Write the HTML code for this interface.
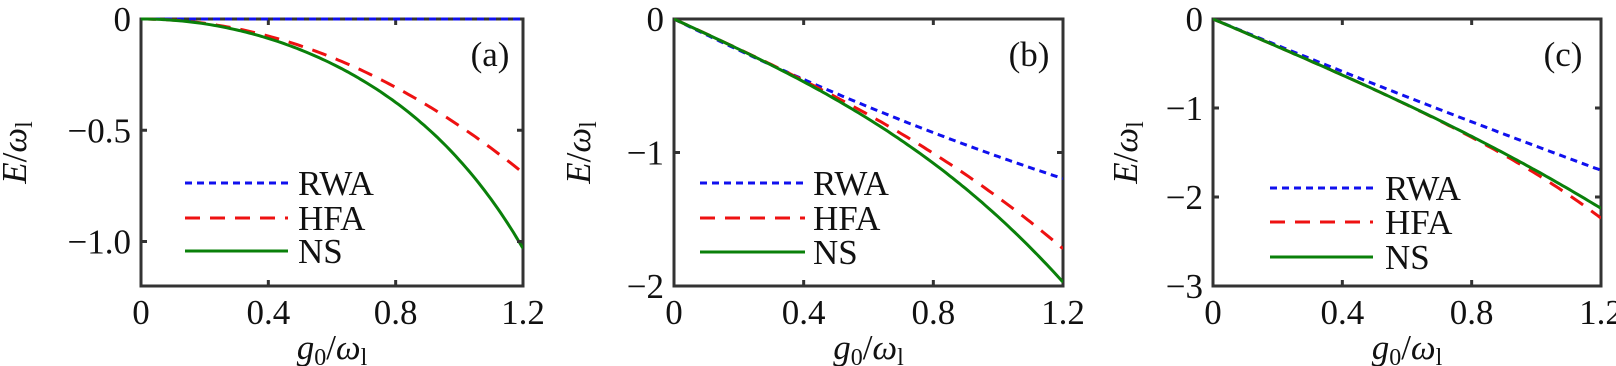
<!DOCTYPE html>
<html><head><meta charset="utf-8"><style>
html,body{margin:0;padding:0;background:#fff;width:1616px;height:366px;overflow:hidden}
</style></head><body>
<svg id="s" width="1616" height="366" xmlns="http://www.w3.org/2000/svg" font-family="'Liberation Serif', 'DejaVu Serif', serif"></svg>
<script>
const S=document.getElementById('s');let h='';
const T=19,B=286;
const FF=`font-family="Liberation Serif, serif" fill="#111"`;
const panels=[
 {L:141,R:523,ymin:-1.2,yt:[[0,'0'],[-0.5,'\u22120.5'],[-1.0,'\u22121.0']],lab:'(a)',labx:490,ylx:26,
  leg:{x1:185,x2:288,ys:[183,218,251],tx:298},
  f:[g=>0,g=>-0.48*g*g,g=>-0.54*g*g-0.03*g**4-0.064*g**6]},
 {L:674,R:1063,ymin:-2,yt:[[0,'0'],[-1,'\u22121'],[-2,'\u22122']],lab:'(b)',labx:1029,ylx:590,
  leg:{x1:700,x2:805,ys:[183,218,252],tx:813},
  f:[g=>-(1.2*g-0.17*g*g),g=>-(1.117*g+0.22*g**3),g=>-(1.117*g+0.365*g**3)]},
 {L:1213,R:1601,ymin:-3,yt:[[0,'0'],[-1,'\u22121'],[-2,'\u22122'],[-3,'\u22123']],lab:'(c)',labx:1563,ylx:1137,
  leg:{x1:1270,x2:1373,ys:[188,222,257],tx:1385},
  f:[g=>-(1.5*g-0.07*g*g),g=>-(1.55*g+0.155*g**3)-0.11*(g/1.2)**6,g=>-(1.55*g+0.155*g**3)]}
];
const sty=[['#1010ee','7 5'],['#ee1111','15 10'],['#0a800a','']];
const names=['RWA','HFA','NS'];
for(const p of panels){
 const X=g=>p.L+(p.R-p.L)*g/1.2, Y=e=>T+(B-T)*e/p.ymin;
 h+=`<defs><clipPath id="c${p.L}"><rect x="${p.L}" y="${T-3}" width="${p.R-p.L}" height="${B-T+3}"/></clipPath></defs>`;
 h+=`<rect x="${p.L}" y="${T}" width="${p.R-p.L}" height="${B-T}" fill="none" stroke="#333" stroke-width="3"/>`;
 for(const g of [0.4,0.8]){const x=X(g);h+=`<line x1="${x}" x2="${x}" y1="${B}" y2="${B-6}" stroke="#333" stroke-width="3"/><line x1="${x}" x2="${x}" y1="${T}" y2="${T+6}" stroke="#333" stroke-width="3"/>`;}
 for(let k=0;k<3;k++){
  let d='';for(let i=0;i<=120;i++){const g=1.2*i/120;d+=(i?'L':'M')+X(g).toFixed(1)+' '+Y(p.f[k](g)).toFixed(1);}
  h+=`<path d="${d}" fill="none" stroke="${sty[k][0]}" stroke-width="3" ${sty[k][1]?`stroke-dasharray="${sty[k][1]}"`:''} clip-path="url(#c${p.L})"/>`;
  const l=p.leg;
  h+=`<line x1="${l.x1}" x2="${l.x2}" y1="${l.ys[k]}" y2="${l.ys[k]}" stroke="${sty[k][0]}" stroke-width="3" ${sty[k][1]?`stroke-dasharray="${sty[k][1]}"`:''}/>`;
  h+=`<text ${FF} x="${l.tx}" y="${l.ys[k]+12}" font-size="35">${names[k]}</text>`;
 }
 for(const [g,s] of [[0,'0'],[0.4,'0.4'],[0.8,'0.8'],[1.2,'1.2']]) h+=`<text ${FF} x="${X(g)}" y="${B+38}" font-size="35" text-anchor="middle">${s}</text>`;
 for(const [v,s] of p.yt){const y=Y(v);
  if(v!==0&&v!==p.ymin)h+=`<line x1="${p.L}" x2="${p.L+6}" y1="${y}" y2="${y}" stroke="#333" stroke-width="3"/><line x1="${p.R}" x2="${p.R-6}" y1="${y}" y2="${y}" stroke="#333" stroke-width="3"/>`;
  h+=`<text ${FF} x="${p.L-10}" y="${y+12}" font-size="35" text-anchor="end">${s}</text>`;}
 h+=`<text ${FF} x="${p.labx}" y="${T+47}" font-size="35" text-anchor="middle">${p.lab}</text>`;
 const cx=(p.L+p.R)/2;
 h+=`<text ${FF} x="${cx}" y="${B+73}" font-size="35" text-anchor="middle"><tspan font-style="italic">g</tspan><tspan font-size="24" dy="6">0</tspan><tspan dy="-6">/</tspan><tspan font-style="italic">ω</tspan><tspan font-size="24" dy="6">l</tspan></text>`;
 h+=`<text ${FF} transform="translate(${p.ylx},${(T+B)/2}) rotate(-90)" font-size="35" text-anchor="middle"><tspan font-style="italic">E</tspan><tspan>/</tspan><tspan font-style="italic">ω</tspan><tspan font-size="24" dy="6">l</tspan></text>`;
}
S.innerHTML=h;
</script>
</body></html>
